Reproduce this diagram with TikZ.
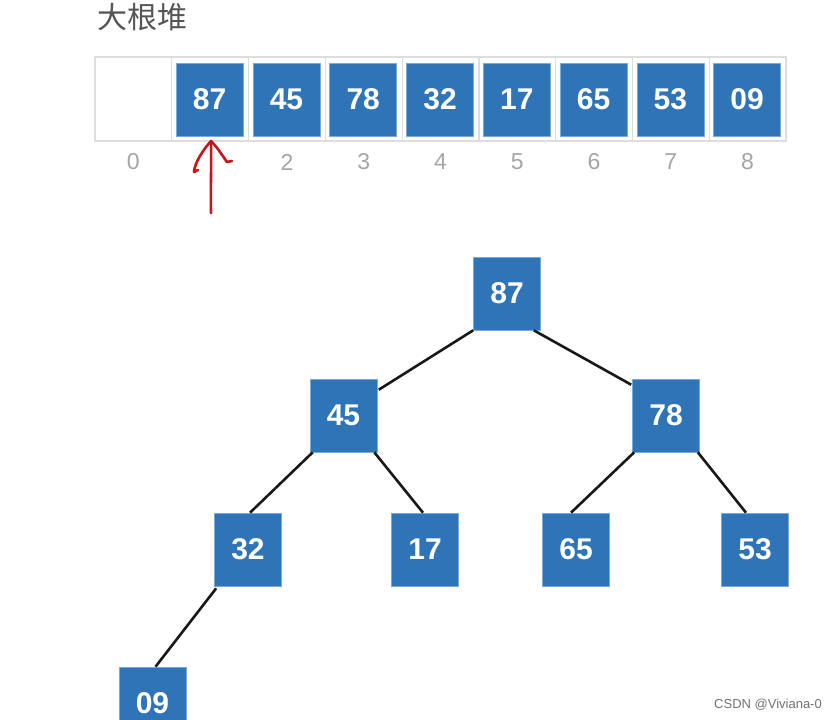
\documentclass[tikz,border=0pt]{standalone}
\usepackage{fontspec}
\setmainfont{Liberation Sans}
\newfontfamily\cjk{Noto Sans CJK SC}
\usetikzlibrary{calc}
\definecolor{boxblue}{RGB}{46,116,182}
\definecolor{boxedge}{RGB}{120,170,220}
\definecolor{framegray}{RGB}{221,221,221}
\definecolor{idxgray}{RGB}{165,165,165}
\definecolor{titlegray}{RGB}{85,85,85}
\definecolor{penred}{RGB}{192,22,28}
\begin{document}
\begin{tikzpicture}[x=1pt,y=-1pt,
  bluebox/.style={fill=boxblue,draw=boxedge,line width=0.6pt,minimum width=67pt,minimum height=73pt,inner sep=0pt,
    text=white,font=\fontsize{30}{30}\selectfont\bfseries},
  idx/.style={text=idxgray,font=\fontsize{23}{23}\selectfont,inner sep=0pt},
  edge/.style={draw=black!90,line width=2.6pt},
  cellline/.style={draw=framegray,line width=1.2pt}]
\useasboundingbox (0,0) rectangle (838,720);
\clip (0,0) rectangle (838,720);
\fill[white] (0,0) rectangle (838,720);

% title
\node[anchor=west,inner sep=0pt,text=titlegray,font=\cjk\fontsize{30}{30}\selectfont] (title) at (97,17) {大根堆};

% array frame
\draw[cellline] (95,57) rectangle (786,141);
\foreach \i in {1,...,8} {
  \draw[cellline] ({95+76.78*\i},57) -- ({95+76.78*\i},141);
}
\node[idx] (i0) at ({95+76.78*0.5},162) {0};
\foreach \v [count=\i] in {87,45,78,32,17,65,53,09} {
  \node[bluebox] (a\i) at ({95+76.78*(\i+0.5)-0.5},99.5) {\v};
}
\foreach \i in {2,...,8} {
  \node[idx] (i\i) at ({95+76.78*(\i+0.5)},162) {\i};
}

% red hand-drawn arrow
\coordinate (tip) at (211,141);
\coordinate (tail) at (211,213);
\draw[penred,line width=2.6pt,line cap=round,line join=round]
  (tail) .. controls (210.5,190) and (211.5,165) .. (tip);
\draw[penred,line width=2.6pt,line cap=round,line join=round]
  (tip) .. controls (203,150) and (195,162) .. (194,172) -- (198,170);
\draw[penred,line width=2.6pt,line cap=round,line join=round]
  (tip) .. controls (218,148) and (224,158) .. (227,162) -- (232,161);

% tree
\node[bluebox] (n87) at (507,293.5) {87};
\node[bluebox] (n45) at (343.5,415.5) {45};
\node[bluebox] (n78) at (666,415.5) {78};
\node[bluebox] (n32) at (248,549.5) {32};
\node[bluebox] (n17) at (425,549.5) {17};
\node[bluebox] (n65) at (576,549.5) {65};
\node[bluebox] (n53) at (755,549.5) {53};
\node[bluebox] (n09) at (152.5,703.5) {09};

\draw[edge] (n87.south west) -- ($(n45.north east)+(1.5,11)$);
\draw[edge] ($(n87.south east)+(-7,0)$) -- ($(n78.north west)+(-1,6)$);
\draw[edge] ($(n45.south west)+(3,0)$) -- ($(n32.north)+(2,0)$);
\draw[edge] ($(n45.south east)+(-3,0)$) -- ($(n17.north)+(-2,0)$);
\draw[edge] ($(n78.south west)+(2,0)$) -- ($(n65.north)+(-5,0)$);
\draw[edge] ($(n78.south east)+(-2,0)$) -- ($(n53.north)+(-9,0)$);
\draw[edge] ($(n32.south west)+(2,2)$) -- ($(n09.north)+(3,0)$);

% watermark
\node[anchor=east,inner sep=0pt,text=black!55,font=\fontsize{13}{13}\selectfont] (wm) at (822,705) {CSDN @Viviana-0};
\end{tikzpicture}
\end{document}
